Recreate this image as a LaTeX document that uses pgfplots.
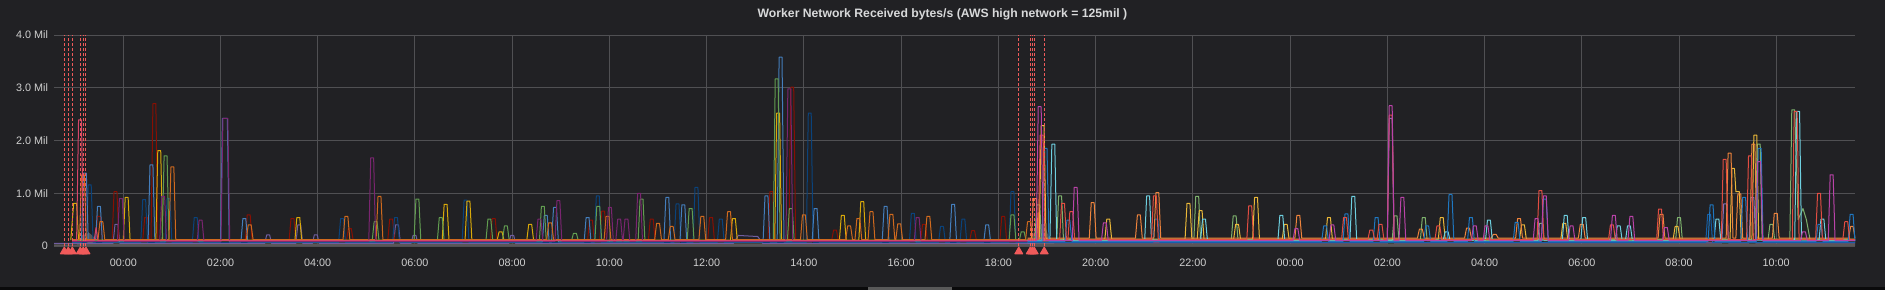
\documentclass[border=0pt]{standalone}
\usepackage{pgfplots}
\pgfplotsset{compat=1.18}
\usepackage{fontspec}
\setmainfont{Liberation Sans}
\definecolor{bg}{HTML}{212124}
\definecolor{gridc}{HTML}{505053}
\definecolor{tickc}{HTML}{D0D0D0}
\definecolor{titlec}{HTML}{D8D9DA}
\definecolor{annot}{HTML}{F05A5A}
\definecolor{fillg}{HTML}{5A5657}
\definecolor{DR}{HTML}{890F02}
\definecolor{DB}{HTML}{0A437C}
\definecolor{BL}{HTML}{447EBC}
\definecolor{YL}{HTML}{D9A90A}
\definecolor{GR}{HTML}{629E51}
\definecolor{OR}{HTML}{D06A1E}
\definecolor{DP}{HTML}{7A2570}
\definecolor{PK}{HTML}{D6456A}
\definecolor{PU}{HTML}{705DA0}
\definecolor{R2}{HTML}{E24D42}
\definecolor{B2}{HTML}{1F78C1}
\definecolor{B3}{HTML}{1560A8}
\definecolor{P2}{HTML}{BA43A9}
\definecolor{C2}{HTML}{6ED0E0}
\definecolor{O2}{HTML}{EF843C}
\definecolor{Y2}{HTML}{EAB839}
\definecolor{G2}{HTML}{7EB26D}
\definecolor{V2}{HTML}{806EB7}
\begin{document}
\begin{tikzpicture}
\fill[bg] (0pt,0pt) rectangle (1885pt,290pt);
\fill[black!70!bg] (0pt,0pt) rectangle (1885pt,3pt);
\fill[black!30!gray] (868pt,0pt) rectangle (952pt,3pt);
\node[text=titlec, font=\bfseries\fontsize{12.2}{14}\selectfont] at (942.5pt,276pt) {Worker Network Received bytes/s (AWS high network = 125mil )};
\begin{axis}[
  at={(54pt,44pt)}, anchor=south west,
  width=1801pt, height=211pt, scale only axis,
  xmin=-1.425, xmax=35.62, ymin=0, ymax=4,
  axis line style={draw=none},
  major tick length=0pt,
  xtick={0,2,...,34},
  xticklabels={00:00,02:00,04:00,06:00,08:00,10:00,12:00,14:00,16:00,18:00,20:00,22:00,00:00,02:00,04:00,06:00,08:00,10:00},
  ytick={0,1,2,3,4},
  yticklabels={0,1.0 Mil,2.0 Mil,3.0 Mil,4.0 Mil},
  grid=major,
  major grid style={draw=gridc, line width=1pt},
  tick label style={font=\fontsize{10.8}{12}\selectfont, text=tickc},
  xticklabel style={yshift=-9pt},
  yticklabel style={xshift=-2.5pt},
  clip=false,
  every axis plot/.append style={line width=1pt, line join=round},
]
% gray filled series
\addplot[draw=none, fill=fillg] coordinates {(-1.425,0.03) (-0.95,0.03) (-0.85,0.2) (-0.7,0.25) (-0.55,0.12) (-0.4,0.05) (18.6,0.05) (18.68,0.15) (18.8,0.40) (18.95,0.42) (19.05,0.12) (19.15,0.05) (35.62,0.05)} \closedcycle;
% ---- first group of workers
\addplot[PU] coordinates {(-1.425,0.05) (-0.21,0.05)(-0.17,0.41)(-0.11,0.41)(-0.07,0.05) (2.91,0.05)(2.95,0.21)(3.01,0.21)(3.05,0.05) (3.55,0.05)(3.59,0.40)(3.65,0.40)(3.69,0.05) (3.89,0.05)(3.93,0.21)(3.99,0.21)(4.03,0.05) (5.56,0.05)(5.60,0.40)(5.66,0.40)(5.70,0.05) (5.92,0.05)(5.96,0.20)(6.02,0.20)(6.06,0.05) (7.93,0.05)(7.97,0.20)(8.03,0.20)(8.07,0.05) (12.55,0.05)(12.65,0.2)(13.05,0.18)(13.15,0.05) (18.75,0.05)};
\addplot[DR] coordinates {(-1.05,0.1) (-0.57,0.1)(-0.53,0.56)(-0.47,0.56)(-0.43,0.1) (-0.23,0.1)(-0.19,1.03)(-0.13,1.03)(-0.09,0.1) (0.40,0.1)(0.44,0.54)(0.50,0.54)(0.54,0.1) (0.57,0.1)(0.61,2.70)(0.67,2.70)(0.71,0.1) (2.51,0.1)(2.55,0.59)(2.61,0.59)(2.65,0.1) (3.41,0.1)(3.45,0.52)(3.51,0.52)(3.55,0.1) (4.59,0.1)(4.63,0.33)(4.69,0.33)(4.73,0.1) (5.44,0.1)(5.48,0.51)(5.54,0.51)(5.58,0.1) (7.55,0.1)(7.59,0.52)(7.65,0.52)(7.69,0.1) (9.55,0.1)(9.59,0.49)(9.65,0.49)(9.69,0.1) (9.80,0.1)(9.84,0.66)(9.90,0.66)(9.94,0.1) (10.80,0.1)(10.84,0.51)(10.90,0.51)(10.94,0.1) (12.02,0.1)(12.06,0.54)(12.12,0.54)(12.16,0.1) (13.26,0.1)(13.30,1.03)(13.36,1.03)(13.40,0.1) (13.69,0.1)(13.73,3.01)(13.79,3.01)(13.83,0.1) (14.57,0.1)(14.61,0.30)(14.67,0.30)(14.71,0.1) (16.40,0.1)(16.44,0.41)(16.50,0.41)(16.54,0.1) (17.41,0.1)(17.45,0.29)(17.51,0.29)(17.55,0.1) (18.03,0.1)(18.07,0.56)(18.13,0.56)(18.17,0.1) (18.75,0.1)};
\addplot[DB] coordinates {(-1.05,0.07) (-0.76,0.07)(-0.72,1.16)(-0.66,1.16)(-0.62,0.07) (0.36,0.07)(0.40,0.88)(0.46,0.88)(0.50,0.07) (0.86,0.07)(0.90,0.90)(0.96,0.90)(1.00,0.07) (1.42,0.07)(1.46,0.54)(1.52,0.54)(1.56,0.07) (4.43,0.07)(4.47,0.52)(4.53,0.52)(4.57,0.07) (5.54,0.07)(5.58,0.54)(5.64,0.54)(5.68,0.07) (6.97,0.07)(7.01,0.87)(7.07,0.87)(7.11,0.07) (9.69,0.07)(9.73,0.95)(9.79,0.95)(9.83,0.07) (11.33,0.07)(11.37,0.80)(11.43,0.80)(11.47,0.07) (11.72,0.07)(11.76,1.11)(11.82,1.11)(11.86,0.07) (12.22,0.07)(12.26,0.51)(12.32,0.51)(12.36,0.07) (14.05,0.07)(14.09,2.52)(14.15,2.52)(14.19,0.07) (16.17,0.07)(16.21,0.62)(16.27,0.62)(16.31,0.07) (16.77,0.07)(16.81,0.37)(16.87,0.37)(16.91,0.07) (17.21,0.07)(17.25,0.51)(17.31,0.51)(17.35,0.07) (18.22,0.07)(18.26,1.03)(18.32,1.03)(18.36,0.07) (18.75,0.07)};
\addplot[BL] coordinates {(-1.05,0.08) (-0.86,0.08)(-0.82,1.38)(-0.76,1.38)(-0.72,0.08) (-0.57,0.08)(-0.53,0.75)(-0.47,0.75)(-0.43,0.08) (0.51,0.08)(0.55,1.54)(0.61,1.54)(0.65,0.08) (2.00,0.08)(2.04,2.42)(2.14,2.42)(2.18,0.08) (2.42,0.08)(2.46,0.52)(2.52,0.52)(2.56,0.08) (8.62,0.08)(8.66,0.58)(8.72,0.58)(8.76,0.08) (8.81,0.08)(8.85,0.73)(8.91,0.73)(8.95,0.08) (9.48,0.08)(9.52,0.54)(9.58,0.54)(9.62,0.08) (11.12,0.08)(11.16,0.92)(11.22,0.92)(11.26,0.08) (11.45,0.08)(11.49,0.78)(11.55,0.78)(11.59,0.08) (13.16,0.08)(13.20,0.95)(13.26,0.95)(13.30,0.08) (13.45,0.08)(13.49,3.58)(13.55,3.58)(13.59,0.08) (14.17,0.08)(14.21,0.71)(14.27,0.71)(14.31,0.08) (15.61,0.08)(15.65,0.75)(15.71,0.75)(15.75,0.08) (17.00,0.08)(17.04,0.79)(17.10,0.79)(17.14,0.08) (17.70,0.08)(17.74,0.40)(17.80,0.40)(17.84,0.08) (18.75,0.08)};
\addplot[YL] coordinates {(-1.08,0.11)(-1.02,0.81)(-0.96,0.81)(-0.92,0.11) (0.00,0.11)(0.04,0.92)(0.10,0.92)(0.14,0.11) (0.67,0.11)(0.71,1.81)(0.77,1.81)(0.81,0.11) (3.53,0.11)(3.57,0.54)(3.63,0.54)(3.67,0.11) (6.56,0.11)(6.60,0.79)(6.66,0.79)(6.70,0.11) (7.03,0.11)(7.07,0.85)(7.13,0.85)(7.17,0.11) (7.69,0.11)(7.73,0.27)(7.79,0.27)(7.83,0.11) (8.30,0.11)(8.34,0.41)(8.40,0.41)(8.44,0.11) (12.49,0.11)(12.53,0.52)(12.59,0.52)(12.63,0.11) (13.40,0.11)(13.44,2.52)(13.50,2.52)(13.54,0.11) (14.73,0.11)(14.77,0.58)(14.83,0.58)(14.87,0.11) (15.13,0.11)(15.17,0.84)(15.23,0.84)(15.27,0.11) (18.75,0.11)};
\addplot[GR] coordinates {(-1.05,0.10) (0.80,0.10)(0.84,1.71)(0.90,1.71)(0.94,0.10) (5.12,0.10)(5.16,0.46)(5.22,0.46)(5.26,0.10) (5.98,0.10)(6.02,0.89)(6.08,0.89)(6.12,0.10) (6.46,0.10)(6.50,0.54)(6.56,0.54)(6.60,0.10) (7.46,0.10)(7.50,0.51)(7.56,0.51)(7.60,0.10) (7.80,0.10)(7.84,0.38)(7.90,0.38)(7.94,0.10) (8.56,0.10)(8.60,0.75)(8.66,0.75)(8.70,0.10) (9.22,0.10)(9.26,0.24)(9.32,0.24)(9.36,0.10) (9.70,0.10)(9.74,0.75)(9.80,0.75)(9.84,0.10) (10.59,0.10)(10.63,0.89)(10.69,0.89)(10.73,0.10) (11.60,0.10)(11.64,0.71)(11.70,0.71)(11.74,0.10) (13.37,0.10)(13.41,3.17)(13.47,3.17)(13.51,0.10) (13.66,0.10)(13.70,0.71)(13.76,0.71)(13.80,0.10) (18.22,0.10)(18.26,0.59)(18.32,0.59)(18.36,0.10) (18.43,0.10)(18.47,0.27)(18.53,0.27)(18.57,0.10) (18.75,0.10)};
\addplot[OR] coordinates {(-1.05,0.12) (-0.90,0.12)(-0.86,1.35)(-0.80,1.35)(-0.76,0.12) (-0.52,0.12)(-0.48,0.46)(-0.42,0.46)(-0.38,0.12) (0.94,0.12)(0.98,1.50)(1.04,1.50)(1.08,0.12) (2.53,0.12)(2.57,0.40)(2.63,0.40)(2.67,0.12) (4.52,0.12)(4.56,0.56)(4.62,0.56)(4.66,0.12) (5.20,0.12)(5.24,0.94)(5.30,0.94)(5.34,0.12) (8.71,0.12)(8.75,0.44)(8.81,0.44)(8.85,0.12) (9.89,0.12)(9.93,0.56)(9.99,0.56)(10.03,0.12) (10.93,0.12)(10.97,0.43)(11.03,0.43)(11.07,0.12) (11.21,0.12)(11.25,0.37)(11.31,0.37)(11.35,0.12) (11.84,0.12)(11.88,0.56)(11.94,0.56)(11.98,0.12) (12.39,0.12)(12.43,0.65)(12.49,0.65)(12.53,0.12) (13.93,0.12)(13.97,0.59)(14.03,0.59)(14.07,0.12) (14.86,0.12)(14.90,0.38)(14.96,0.38)(15.00,0.12) (15.05,0.12)(15.09,0.52)(15.15,0.52)(15.19,0.12) (15.32,0.12)(15.36,0.65)(15.42,0.65)(15.46,0.12) (15.73,0.12)(15.77,0.60)(15.83,0.60)(15.87,0.12) (15.89,0.12)(15.93,0.42)(15.99,0.42)(16.03,0.12) (16.49,0.12)(16.53,0.56)(16.59,0.56)(16.63,0.12) (18.56,0.12)(18.60,0.46)(18.66,0.46)(18.70,0.12) (18.75,0.12)};
\addplot[DP] coordinates {(-1.05,0.09) (-0.12,0.09)(-0.08,0.90)(-0.02,0.90)(0.02,0.09) (0.75,0.09)(0.79,0.94)(0.85,0.94)(0.89,0.09) (1.52,0.09)(1.56,0.49)(1.62,0.49)(1.66,0.09) (2.01,0.09)(2.05,2.42)(2.15,2.42)(2.19,0.09) (5.05,0.09)(5.09,1.67)(5.15,1.67)(5.19,0.09) (8.49,0.09)(8.53,0.51)(8.59,0.51)(8.63,0.09) (8.88,0.09)(8.92,0.86)(8.98,0.86)(9.02,0.09) (9.94,0.09)(9.98,0.73)(10.04,0.73)(10.08,0.09) (10.13,0.09)(10.17,0.51)(10.23,0.51)(10.27,0.09) (10.28,0.09)(10.32,0.51)(10.38,0.51)(10.42,0.09) (10.54,0.09)(10.58,1.00)(10.64,1.00)(10.68,0.09) (13.63,0.09)(13.67,2.98)(13.73,2.98)(13.77,0.09) (16.27,0.09)(16.31,0.54)(16.37,0.54)(16.41,0.09) (18.75,0.09)};
\addplot[PK] coordinates {(-1.05,0.1)(-0.96,0.1)(-0.92,2.39)(-0.86,2.39)(-0.82,0.1)(-0.60,0.1)(-0.56,0.35)(-0.52,0.1)(18.75,0.1)};
% ---- second group of workers
\addplot[V2] coordinates {(18.60,0.06)(26.00,0.06)(26.04,2.42)(26.10,2.42)(26.14,0.06)(32.88,0.06)(32.92,0.80)(32.98,0.80)(33.02,0.06)(33.44,0.06)(33.48,0.92)(33.54,0.92)(33.58,0.06)(35.62,0.06)};
\addplot[B3] coordinates {(18.60,0.07) (21.18,0.07)(21.22,0.51)(21.28,0.51)(21.32,0.07) (32.55,0.07)(32.59,0.60)(32.65,0.60)(32.69,0.07) (35.62,0.07)};
\addplot[G2] coordinates {(18.60,0.10) (18.75,0.10)(18.79,0.78)(18.85,0.78)(18.89,0.10) (19.20,0.10)(19.24,0.95)(19.30,0.95)(19.34,0.10) (22.02,0.10)(22.06,0.94)(22.12,0.94)(22.16,0.10) (22.79,0.10)(22.83,0.57)(22.89,0.57)(22.93,0.10) (26.10,0.10)(26.14,0.57)(26.20,0.57)(26.24,0.10) (26.68,0.10)(26.72,0.54)(26.78,0.54)(26.82,0.10) (29.09,0.10)(29.13,0.43)(29.19,0.43)(29.23,0.10) (31.93,0.10)(31.97,0.54)(32.03,0.54)(32.07,0.10) (33.57,0.10)(33.61,1.93)(33.67,1.93)(33.71,0.10) (33.83,0.10)(33.87,0.41)(33.93,0.41)(33.97,0.10) (34.28,0.10)(34.32,2.58)(34.38,2.58)(34.45,0.5)(34.55,0.71)(34.62,0.5)(34.70,0.10) (35.62,0.10)};
\addplot[Y2] coordinates {(18.60,0.13) (18.84,0.13)(18.88,2.28)(18.94,2.28)(18.98,0.13) (20.19,0.13)(20.23,0.51)(20.29,0.51)(20.33,0.13) (21.84,0.13)(21.88,0.81)(21.94,0.81)(21.98,0.13) (22.09,0.13)(22.13,0.67)(22.19,0.67)(22.23,0.13) (22.84,0.13)(22.88,0.41)(22.94,0.41)(22.98,0.13) (23.23,0.13)(23.27,0.92)(23.33,0.92)(23.37,0.13) (23.84,0.13)(23.88,0.41)(23.94,0.41)(23.98,0.13) (24.73,0.13)(24.77,0.54)(24.83,0.54)(24.87,0.13) (27.05,0.13)(27.09,0.54)(27.15,0.54)(27.19,0.13) (28.72,0.13)(28.76,0.40)(28.82,0.40)(28.86,0.13) (29.57,0.13)(29.61,0.43)(29.67,0.43)(29.71,0.13) (31.88,0.13)(31.92,0.37)(31.98,0.37)(32.02,0.13) (33.05,0.13)(33.09,1.47)(33.14,1.47)(33.17,1.03)(33.24,1.03)(33.28,0.13) (33.50,0.13)(33.54,2.10)(33.60,2.10)(33.64,0.13) (35.62,0.13)};
\addplot[O2] coordinates {(18.60,0.15) (18.68,0.15)(18.72,0.90)(18.78,0.90)(18.82,0.15) (19.87,0.15)(19.91,0.82)(19.97,0.82)(20.01,0.15) (20.82,0.15)(20.86,0.59)(20.92,0.59)(20.96,0.15) (21.20,0.15)(21.24,1.01)(21.30,1.01)(21.34,0.15) (24.10,0.15)(24.14,0.58)(24.20,0.58)(24.24,0.15) (26.62,0.15)(26.66,0.32)(26.72,0.32)(26.76,0.15) (27.59,0.15)(27.63,0.34)(27.69,0.34)(27.73,0.15) (28.14,0.15)(28.18,0.22)(28.24,0.22)(28.28,0.15) (28.64,0.15)(28.68,0.52)(28.74,0.52)(28.78,0.15) (29.93,0.15)(29.97,0.41)(30.03,0.41)(30.07,0.15) (31.57,0.15)(31.61,0.60)(31.67,0.60)(31.71,0.15) (32.97,0.15)(33.01,1.76)(33.07,1.76)(33.11,0.15) (33.17,0.15)(33.21,0.99)(33.27,0.99)(33.31,0.15) (33.46,0.15)(33.50,1.93)(33.56,1.93)(33.60,0.15) (33.92,0.15)(33.96,0.62)(34.02,0.62)(34.06,0.15) (35.49,0.15)(35.53,0.37)(35.58,0.37)(35.62,0.15)};
\addplot[C2] coordinates {(18.60,0.11) (19.06,0.11)(19.10,1.93)(19.16,1.93)(19.20,0.11) (21.01,0.11)(21.05,0.95)(21.11,0.95)(21.15,0.11) (22.16,0.11)(22.20,0.51)(22.26,0.51)(22.30,0.11) (23.75,0.11)(23.79,0.58)(23.85,0.58)(23.89,0.11) (25.23,0.11)(25.27,0.94)(25.33,0.94)(25.37,0.11) (27.15,0.11)(27.19,0.27)(27.25,0.27)(27.29,0.11) (28.02,0.11)(28.06,0.49)(28.12,0.49)(28.16,0.11) (29.60,0.11)(29.64,0.58)(29.70,0.58)(29.74,0.11) (29.98,0.11)(30.02,0.54)(30.08,0.54)(30.12,0.11) (30.69,0.11)(30.73,0.38)(30.79,0.38)(30.83,0.11) (30.90,0.11)(30.94,0.38)(31.00,0.38)(31.04,0.11) (32.72,0.11)(32.76,0.51)(32.82,0.51)(32.86,0.11) (34.38,0.11)(34.42,2.55)(34.48,2.55)(34.52,0.11) (34.88,0.11)(34.92,0.51)(34.98,0.51)(35.02,0.11) (35.62,0.11)};
\addplot[B2] coordinates {(18.60,0.09) (18.90,0.09)(18.94,1.85)(19.00,1.85)(19.04,0.09) (19.37,0.09)(19.41,0.49)(19.47,0.49)(19.51,0.09) (24.65,0.09)(24.69,0.38)(24.75,0.38)(24.79,0.09) (25.09,0.09)(25.13,0.61)(25.19,0.61)(25.23,0.09) (25.71,0.09)(25.75,0.54)(25.81,0.54)(25.85,0.09) (26.75,0.09)(26.79,0.38)(26.85,0.38)(26.89,0.09) (27.23,0.09)(27.27,0.98)(27.33,0.98)(27.37,0.09) (27.65,0.09)(27.69,0.54)(27.75,0.54)(27.79,0.09) (28.59,0.09)(28.63,0.45)(28.69,0.45)(28.73,0.09) (29.17,0.09)(29.21,0.89)(29.27,0.89)(29.31,0.09) (32.60,0.09)(32.64,0.78)(32.70,0.78)(32.74,0.09) (33.27,0.09)(33.31,0.92)(33.37,0.92)(33.41,0.09) (33.59,0.09)(33.63,1.85)(33.69,1.85)(33.73,0.09) (34.82,0.09)(34.86,0.41)(34.92,0.41)(34.96,0.09) (35.48,0.09)(35.52,0.60)(35.58,0.60)(35.62,0.09)};
\addplot[R2] coordinates {(18.60,0.12) (18.82,0.12)(18.86,2.10)(18.92,2.10)(18.96,0.12) (19.26,0.12)(19.30,0.81)(19.36,0.81)(19.40,0.12) (19.43,0.12)(19.47,0.65)(19.53,0.65)(19.57,0.12) (21.15,0.12)(21.19,0.95)(21.25,0.95)(21.29,0.12) (23.11,0.12)(23.15,0.76)(23.21,0.76)(23.25,0.12) (25.06,0.12)(25.10,0.54)(25.16,0.54)(25.20,0.12) (25.60,0.12)(25.64,0.30)(25.70,0.30)(25.74,0.12) (25.79,0.12)(25.83,0.41)(25.89,0.41)(25.93,0.12) (26.00,0.12)(26.04,2.48)(26.10,2.48)(26.14,0.12) (26.98,0.12)(27.02,0.38)(27.08,0.38)(27.12,0.12) (29.08,0.12)(29.12,1.05)(29.18,1.05)(29.22,0.12) (30.55,0.12)(30.59,0.40)(30.65,0.40)(30.69,0.12) (31.54,0.12)(31.58,0.70)(31.64,0.70)(31.68,0.12) (32.87,0.12)(32.91,1.64)(32.97,1.64)(33.01,0.12) (33.39,0.12)(33.43,1.71)(33.49,1.71)(33.53,0.12) (34.33,0.12)(34.37,2.55)(34.43,2.55)(34.47,0.12) (34.81,0.12)(34.85,1.00)(34.91,1.00)(34.95,0.12) (35.37,0.12)(35.41,0.46)(35.47,0.46)(35.51,0.12) (35.62,0.12)};
\addplot[P2] coordinates {(18.60,0.10) (18.78,0.10)(18.82,2.64)(18.88,2.64)(18.92,0.10) (19.52,0.10)(19.56,1.11)(19.62,1.11)(19.66,0.10) (20.12,0.10)(20.16,0.44)(20.22,0.44)(20.26,0.10) (24.06,0.10)(24.10,0.33)(24.16,0.33)(24.20,0.10) (24.80,0.10)(24.84,0.40)(24.90,0.40)(24.94,0.10) (26.00,0.10)(26.04,2.66)(26.10,2.66)(26.14,0.10) (26.24,0.10)(26.28,0.92)(26.34,0.92)(26.38,0.10) (27.73,0.10)(27.77,0.38)(27.83,0.38)(27.87,0.10) (27.97,0.10)(28.01,0.38)(28.07,0.38)(28.11,0.10) (29.00,0.10)(29.04,0.52)(29.10,0.52)(29.14,0.10) (29.17,0.10)(29.21,0.95)(29.27,0.95)(29.31,0.10) (29.72,0.10)(29.76,0.38)(29.82,0.38)(29.86,0.10) (30.59,0.10)(30.63,0.58)(30.69,0.58)(30.73,0.10) (30.95,0.10)(30.99,0.56)(31.05,0.56)(31.09,0.10) (31.66,0.10)(31.70,0.35)(31.76,0.35)(31.80,0.10) (33.58,0.10)(33.62,1.60)(33.68,1.60)(33.72,0.10) (34.50,0.10)(34.54,0.27)(34.60,0.27)(34.64,0.10) (35.07,0.10)(35.11,1.35)(35.17,1.35)(35.21,0.10) (35.62,0.10)};
% ---- annotations
\addplot[annot, line width=1pt, dash pattern=on 3pt off 2pt, unbounded coords=jump] coordinates {(-1.213,0)(-1.213,4)(-1.213,nan)(-1.131,0)(-1.131,4)(-1.131,nan)(-1.049,0)(-1.049,4)(-1.049,nan)(-0.885,0)(-0.885,4)(-0.885,nan)(-0.823,0)(-0.823,4)(-0.823,nan)(-0.767,0)(-0.767,4)(-0.767,nan)(18.42,0)(18.42,4)(18.42,nan)(18.655,0)(18.655,4)(18.655,nan)(18.696,0)(18.696,4)(18.696,nan)(18.737,0)(18.737,4)(18.737,nan)(18.943,0)(18.943,4)};
\addplot[only marks, mark=triangle*, mark size=4.5pt, color=annot] coordinates {(-1.213,-0.105)(-1.131,-0.105)(-1.049,-0.105)(-0.885,-0.105)(-0.823,-0.105)(-0.767,-0.105)(18.42,-0.105)(18.655,-0.105)(18.696,-0.105)(18.737,-0.105)(18.943,-0.105)};
\end{axis}
\end{tikzpicture}
\end{document}
